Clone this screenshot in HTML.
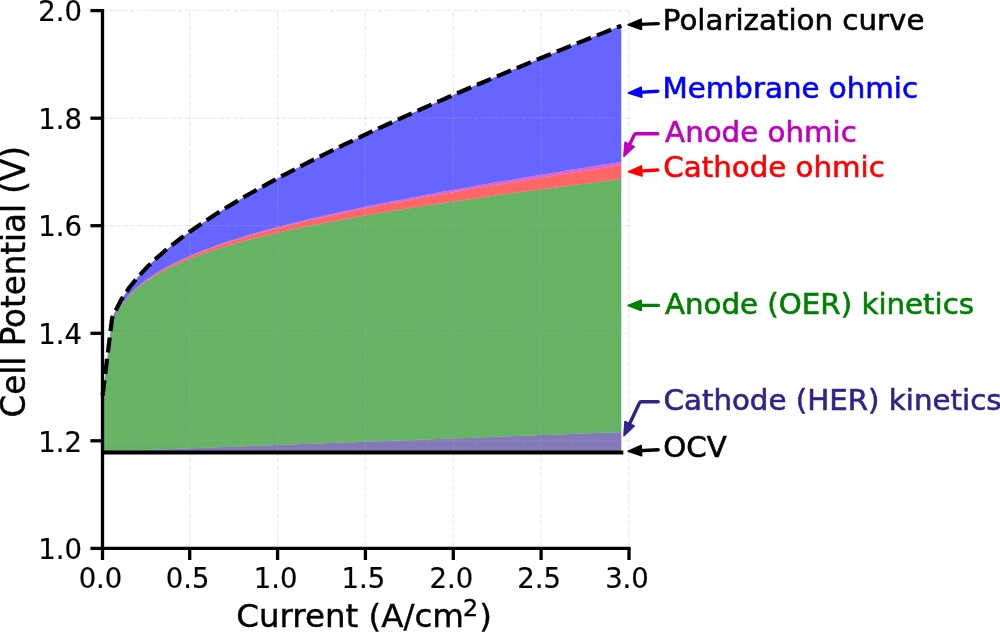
<!DOCTYPE html>
<html><head><meta charset="utf-8"><title>Polarization curve breakdown</title>
<style>html,body{margin:0;padding:0;background:#fff}svg{display:block}</style></head>
<body>
<svg width="1000" height="632" viewBox="0 0 1000 632" font-family="'DejaVu Sans', 'Liberation Sans', sans-serif">
<rect width="1000" height="632" fill="#fff"/>
<path d="M102.6,451.6 L112.1,451.2 L120.8,450.9 L129.4,450.6 L138.0,450.3 L146.7,449.9 L155.3,449.6 L163.9,449.3 L172.6,449.0 L181.2,448.6 L189.8,448.3 L198.4,448.0 L207.1,447.7 L215.7,447.3 L224.3,447.0 L233.0,446.7 L241.6,446.4 L250.2,446.0 L258.9,445.7 L267.5,445.4 L276.1,445.1 L284.7,444.8 L293.4,444.4 L302.0,444.1 L310.6,443.8 L319.3,443.5 L327.9,443.1 L336.5,442.8 L345.1,442.5 L353.8,442.2 L362.4,441.8 L371.0,441.5 L379.7,441.2 L388.3,440.9 L396.9,440.5 L405.6,440.2 L414.2,439.9 L422.8,439.6 L431.4,439.2 L440.1,438.9 L448.7,438.6 L457.3,438.3 L466.0,437.9 L474.6,437.6 L483.2,437.3 L491.9,437.0 L500.5,436.6 L509.1,436.3 L517.7,436.0 L526.4,435.7 L535.0,435.3 L543.6,435.0 L552.3,434.7 L560.9,434.4 L569.5,434.0 L578.2,433.7 L586.8,433.4 L595.4,433.1 L604.0,432.7 L612.7,432.4 L621.3,432.1 L621.3,451.6 L102.6,451.6Z" fill="#332288" fill-opacity="0.6"/>
<path d="M102.6,396.0 L112.1,321.1 L120.8,305.8 L129.4,295.5 L138.0,287.6 L146.7,281.1 L155.3,275.5 L163.9,270.7 L172.6,266.3 L181.2,262.4 L189.8,258.8 L198.4,255.5 L207.1,252.4 L215.7,249.6 L224.3,246.9 L233.0,244.3 L241.6,241.9 L250.2,239.6 L258.9,237.3 L267.5,235.2 L276.1,233.2 L284.7,231.2 L293.4,229.3 L302.0,227.5 L310.6,225.7 L319.3,224.0 L327.9,222.3 L336.5,220.7 L345.1,219.1 L353.8,217.5 L362.4,216.0 L371.0,214.5 L379.7,213.0 L388.3,211.6 L396.9,210.2 L405.6,208.8 L414.2,207.4 L422.8,206.1 L431.4,204.8 L440.1,203.5 L448.7,202.2 L457.3,200.9 L466.0,199.7 L474.6,198.5 L483.2,197.2 L491.9,196.0 L500.5,194.8 L509.1,193.7 L517.7,192.5 L526.4,191.3 L535.0,190.2 L543.6,189.0 L552.3,187.9 L560.9,186.8 L569.5,185.6 L578.2,184.5 L586.8,183.4 L595.4,182.3 L604.0,181.2 L612.7,180.1 L621.3,179.1 L621.3,432.1 L612.7,432.4 L604.0,432.7 L595.4,433.1 L586.8,433.4 L578.2,433.7 L569.5,434.0 L560.9,434.4 L552.3,434.7 L543.6,435.0 L535.0,435.3 L526.4,435.7 L517.7,436.0 L509.1,436.3 L500.5,436.6 L491.9,437.0 L483.2,437.3 L474.6,437.6 L466.0,437.9 L457.3,438.3 L448.7,438.6 L440.1,438.9 L431.4,439.2 L422.8,439.6 L414.2,439.9 L405.6,440.2 L396.9,440.5 L388.3,440.9 L379.7,441.2 L371.0,441.5 L362.4,441.8 L353.8,442.2 L345.1,442.5 L336.5,442.8 L327.9,443.1 L319.3,443.5 L310.6,443.8 L302.0,444.1 L293.4,444.4 L284.7,444.8 L276.1,445.1 L267.5,445.4 L258.9,445.7 L250.2,446.0 L241.6,446.4 L233.0,446.7 L224.3,447.0 L215.7,447.3 L207.1,447.7 L198.4,448.0 L189.8,448.3 L181.2,448.6 L172.6,449.0 L163.9,449.3 L155.3,449.6 L146.7,449.9 L138.0,450.3 L129.4,450.6 L120.8,450.9 L112.1,451.2 L102.6,451.6Z" fill="#008000" fill-opacity="0.6"/>
<path d="M102.6,396.0 L112.1,320.8 L120.8,305.4 L129.4,294.8 L138.0,286.6 L146.7,279.9 L155.3,274.1 L163.9,269.0 L172.6,264.5 L181.2,260.3 L189.8,256.5 L198.4,252.9 L207.1,249.6 L215.7,246.5 L224.3,243.6 L233.0,240.8 L241.6,238.1 L250.2,235.6 L258.9,233.1 L267.5,230.8 L276.1,228.5 L284.7,226.3 L293.4,224.2 L302.0,222.1 L310.6,220.1 L319.3,218.2 L327.9,216.2 L336.5,214.4 L345.1,212.6 L353.8,210.8 L362.4,209.0 L371.0,207.3 L379.7,205.6 L388.3,203.9 L396.9,202.3 L405.6,200.7 L414.2,199.1 L422.8,197.5 L431.4,196.0 L440.1,194.4 L448.7,192.9 L457.3,191.4 L466.0,190.0 L474.6,188.5 L483.2,187.0 L491.9,185.6 L500.5,184.2 L509.1,182.8 L517.7,181.4 L526.4,180.0 L535.0,178.6 L543.6,177.2 L552.3,175.8 L560.9,174.5 L569.5,173.1 L578.2,171.8 L586.8,170.4 L595.4,169.1 L604.0,167.8 L612.7,166.5 L621.3,165.1 L621.3,179.1 L612.7,180.1 L604.0,181.2 L595.4,182.3 L586.8,183.4 L578.2,184.5 L569.5,185.6 L560.9,186.8 L552.3,187.9 L543.6,189.0 L535.0,190.2 L526.4,191.3 L517.7,192.5 L509.1,193.7 L500.5,194.8 L491.9,196.0 L483.2,197.2 L474.6,198.5 L466.0,199.7 L457.3,200.9 L448.7,202.2 L440.1,203.5 L431.4,204.8 L422.8,206.1 L414.2,207.4 L405.6,208.8 L396.9,210.2 L388.3,211.6 L379.7,213.0 L371.0,214.5 L362.4,216.0 L353.8,217.5 L345.1,219.1 L336.5,220.7 L327.9,222.3 L319.3,224.0 L310.6,225.7 L302.0,227.5 L293.4,229.3 L284.7,231.2 L276.1,233.2 L267.5,235.2 L258.9,237.3 L250.2,239.6 L241.6,241.9 L233.0,244.3 L224.3,246.9 L215.7,249.6 L207.1,252.4 L198.4,255.5 L189.8,258.8 L181.2,262.4 L172.6,266.3 L163.9,270.7 L155.3,275.5 L146.7,281.1 L138.0,287.6 L129.4,295.5 L120.8,305.8 L112.1,321.1 L102.6,396.0Z" fill="#ff0000" fill-opacity="0.6"/>
<path d="M102.6,396.0 L112.1,320.7 L120.8,305.2 L129.4,294.6 L138.0,286.4 L146.7,279.6 L155.3,273.8 L163.9,268.6 L172.6,264.0 L181.2,259.8 L189.8,255.9 L198.4,252.3 L207.1,249.0 L215.7,245.8 L224.3,242.8 L233.0,240.0 L241.6,237.3 L250.2,234.6 L258.9,232.1 L267.5,229.7 L276.1,227.4 L284.7,225.2 L293.4,223.0 L302.0,220.9 L310.6,218.8 L319.3,216.8 L327.9,214.8 L336.5,212.9 L345.1,211.0 L353.8,209.2 L362.4,207.3 L371.0,205.6 L379.7,203.8 L388.3,202.1 L396.9,200.4 L405.6,198.7 L414.2,197.1 L422.8,195.5 L431.4,193.9 L440.1,192.3 L448.7,190.7 L457.3,189.2 L466.0,187.6 L474.6,186.1 L483.2,184.6 L491.9,183.1 L500.5,181.6 L509.1,180.2 L517.7,178.7 L526.4,177.3 L535.0,175.8 L543.6,174.4 L552.3,173.0 L560.9,171.5 L569.5,170.1 L578.2,168.7 L586.8,167.3 L595.4,166.0 L604.0,164.6 L612.7,163.2 L621.3,161.8 L621.3,165.1 L612.7,166.5 L604.0,167.8 L595.4,169.1 L586.8,170.4 L578.2,171.8 L569.5,173.1 L560.9,174.5 L552.3,175.8 L543.6,177.2 L535.0,178.6 L526.4,180.0 L517.7,181.4 L509.1,182.8 L500.5,184.2 L491.9,185.6 L483.2,187.0 L474.6,188.5 L466.0,190.0 L457.3,191.4 L448.7,192.9 L440.1,194.4 L431.4,196.0 L422.8,197.5 L414.2,199.1 L405.6,200.7 L396.9,202.3 L388.3,203.9 L379.7,205.6 L371.0,207.3 L362.4,209.0 L353.8,210.8 L345.1,212.6 L336.5,214.4 L327.9,216.2 L319.3,218.2 L310.6,220.1 L302.0,222.1 L293.4,224.2 L284.7,226.3 L276.1,228.5 L267.5,230.8 L258.9,233.1 L250.2,235.6 L241.6,238.1 L233.0,240.8 L224.3,243.6 L215.7,246.5 L207.1,249.6 L198.4,252.9 L189.8,256.5 L181.2,260.3 L172.6,264.5 L163.9,269.0 L155.3,274.1 L146.7,279.9 L138.0,286.6 L129.4,294.8 L120.8,305.4 L112.1,320.8 L102.6,396.0Z" fill="#bf00bf" fill-opacity="0.6"/>
<path d="M102.6,395.5 L112.1,317.9 L120.8,300.4 L129.4,287.5 L138.0,276.9 L146.7,267.6 L155.3,259.3 L163.9,251.7 L172.6,244.7 L181.2,238.0 L189.8,231.7 L198.4,225.7 L207.1,219.9 L215.7,214.3 L224.3,208.9 L233.0,203.6 L241.6,198.5 L250.2,193.5 L258.9,188.7 L267.5,183.9 L276.1,179.2 L284.7,174.6 L293.4,170.1 L302.0,165.6 L310.6,161.2 L319.3,156.9 L327.9,152.6 L336.5,148.4 L345.1,144.2 L353.8,140.1 L362.4,136.0 L371.0,131.9 L379.7,127.9 L388.3,124.0 L396.9,120.0 L405.6,116.1 L414.2,112.2 L422.8,108.4 L431.4,104.6 L440.1,100.8 L448.7,97.0 L457.3,93.3 L466.0,89.5 L474.6,85.8 L483.2,82.2 L491.9,78.5 L500.5,74.9 L509.1,71.3 L517.7,67.7 L526.4,64.1 L535.0,60.5 L543.6,57.0 L552.3,53.4 L560.9,49.9 L569.5,46.4 L578.2,42.9 L586.8,39.5 L595.4,36.0 L604.0,32.6 L612.7,29.1 L621.3,25.7 L621.3,161.8 L612.7,163.2 L604.0,164.6 L595.4,166.0 L586.8,167.3 L578.2,168.7 L569.5,170.1 L560.9,171.5 L552.3,173.0 L543.6,174.4 L535.0,175.8 L526.4,177.3 L517.7,178.7 L509.1,180.2 L500.5,181.6 L491.9,183.1 L483.2,184.6 L474.6,186.1 L466.0,187.6 L457.3,189.2 L448.7,190.7 L440.1,192.3 L431.4,193.9 L422.8,195.5 L414.2,197.1 L405.6,198.7 L396.9,200.4 L388.3,202.1 L379.7,203.8 L371.0,205.6 L362.4,207.3 L353.8,209.2 L345.1,211.0 L336.5,212.9 L327.9,214.8 L319.3,216.8 L310.6,218.8 L302.0,220.9 L293.4,223.0 L284.7,225.2 L276.1,227.4 L267.5,229.7 L258.9,232.1 L250.2,234.6 L241.6,237.3 L233.0,240.0 L224.3,242.8 L215.7,245.8 L207.1,249.0 L198.4,252.3 L189.8,255.9 L181.2,259.8 L172.6,264.0 L163.9,268.6 L155.3,273.8 L146.7,279.6 L138.0,286.4 L129.4,294.6 L120.8,305.2 L112.1,320.7 L102.6,396.0Z" fill="#0000ff" fill-opacity="0.6"/>
<g stroke="#b0b0b0" stroke-opacity="0.25" stroke-width="1.3" stroke-dasharray="4.8 2.07" fill="none">
<path d="M189.7,548.4 V10.6" stroke-dashoffset="4"/>
<path d="M277.6,548.4 V10.6" stroke-dashoffset="4"/>
<path d="M365.4,548.4 V10.6" stroke-dashoffset="4"/>
<path d="M453.3,548.4 V10.6" stroke-dashoffset="4"/>
<path d="M541.1,548.4 V10.6" stroke-dashoffset="4"/>
<path d="M629.0,548.4 V10.6" stroke-dashoffset="4"/>
<path d="M102.5,440.8 H629.0"/>
<path d="M102.5,333.3 H629.0"/>
<path d="M102.5,225.7 H629.0"/>
<path d="M102.5,118.2 H629.0"/>
<path d="M102.5,10.6 H629.0"/>
</g>
<path d="M102.6,452.4 H623.3" stroke="#000" stroke-width="4" fill="none"/>
<path d="M102.6,395.5 L112.1,317.9 L120.8,300.4 L129.4,287.5 L138.0,276.9 L146.7,267.6 L155.3,259.3 L163.9,251.7 L172.6,244.7 L181.2,238.0 L189.8,231.7 L198.4,225.7 L207.1,219.9 L215.7,214.3 L224.3,208.9 L233.0,203.6 L241.6,198.5 L250.2,193.5 L258.9,188.7 L267.5,183.9 L276.1,179.2 L284.7,174.6 L293.4,170.1 L302.0,165.6 L310.6,161.2 L319.3,156.9 L327.9,152.6 L336.5,148.4 L345.1,144.2 L353.8,140.1 L362.4,136.0 L371.0,131.9 L379.7,127.9 L388.3,124.0 L396.9,120.0 L405.6,116.1 L414.2,112.2 L422.8,108.4 L431.4,104.6 L440.1,100.8 L448.7,97.0 L457.3,93.3 L466.0,89.5 L474.6,85.8 L483.2,82.2 L491.9,78.5 L500.5,74.9 L509.1,71.3 L517.7,67.7 L526.4,64.1 L535.0,60.5 L543.6,57.0 L552.3,53.4 L560.9,49.9 L569.5,46.4 L578.2,42.9 L586.8,39.5 L595.4,36.0 L604.0,32.6 L612.7,29.1 L621.3,25.7" stroke="#000" stroke-width="4.2" stroke-dasharray="15.3 6.32" fill="none" stroke-linejoin="round"/>
<path d="M102.5,8.95 V550.05" stroke="#000" stroke-width="3.3" fill="none"/>
<path d="M100.85,548.4 H630.66" stroke="#000" stroke-width="3.3" fill="none"/>
<g stroke="#000" stroke-width="3.3" fill="none">
<path d="M102.5,548.4 V560.0"/>
<path d="M189.7,548.4 V560.0"/>
<path d="M277.6,548.4 V560.0"/>
<path d="M365.4,548.4 V560.0"/>
<path d="M453.3,548.4 V560.0"/>
<path d="M541.1,548.4 V560.0"/>
<path d="M629.0,548.4 V560.0"/>
<path d="M102.5,548.4 H90.4"/>
<path d="M102.5,440.8 H90.4"/>
<path d="M102.5,333.3 H90.4"/>
<path d="M102.5,225.7 H90.4"/>
<path d="M102.5,118.2 H90.4"/>
<path d="M102.5,10.6 H90.4"/>
</g>
<g font-size="27.5" fill="#000" stroke="#000" stroke-width="0.2">
<text x="100.5" y="588.0" text-anchor="middle">0.0</text>
<text x="187.7" y="588.0" text-anchor="middle">0.5</text>
<text x="275.6" y="588.0" text-anchor="middle">1.0</text>
<text x="363.4" y="588.0" text-anchor="middle">1.5</text>
<text x="451.3" y="588.0" text-anchor="middle">2.0</text>
<text x="539.1" y="588.0" text-anchor="middle">2.5</text>
<text x="627.0" y="588.0" text-anchor="middle">3.0</text>
<text x="81.9" y="559.1" text-anchor="end">1.0</text>
<text x="81.9" y="451.5" text-anchor="end">1.2</text>
<text x="81.9" y="344.0" text-anchor="end">1.4</text>
<text x="81.9" y="236.4" text-anchor="end">1.6</text>
<text x="81.9" y="128.9" text-anchor="end">1.8</text>
<text x="81.9" y="21.3" text-anchor="end">2.0</text>
</g>
<text font-size="32.5" fill="#000" stroke="#000" stroke-width="0.4" transform="translate(0,627.4) scale(1,0.965)"><tspan x="236.3" y="0">Current (A/cm</tspan><tspan font-size="23.72" x="463.0" y="-11.9">2</tspan><tspan x="479.2" y="0">)</tspan></text>
<text font-size="32.5" fill="#000" transform="translate(25.4,417.4) rotate(-90) scale(1,1.045)" stroke="#000" stroke-width="0.4">Cell Potential (V)</text>
<path d="M658.3,23.6 L639.3,24.4" stroke="#000" stroke-width="3.4" stroke-linecap="round" fill="none"/><path d="M628.1,24.8 L641.1,19.2 L641.5,29.4Z" fill="#000" stroke="#000" stroke-width="1.6" stroke-linejoin="round"/>
<path d="M657.8,91.2 L639.5,92.4" stroke="#0000ff" stroke-width="3.4" stroke-linecap="round" fill="none"/><path d="M628.3,93.1 L641.1,87.2 L641.8,97.3Z" fill="#0000ff" stroke="#0000ff" stroke-width="1.6" stroke-linejoin="round"/>
<path d="M657.8,133.8 L636.3,133.8 Q634.8,133.8 634.1,135.2 L628.8,146.3" stroke="#bf00bf" stroke-width="3.4" stroke-linecap="round" fill="none"/><path d="M623.9,156.3 L625.1,142.2 L634.2,146.7Z" fill="#bf00bf" stroke="#bf00bf" stroke-width="1.6" stroke-linejoin="round"/>
<path d="M657.8,170.0 L639.7,171.1" stroke="#ff0000" stroke-width="3.4" stroke-linecap="round" fill="none"/><path d="M628.5,171.7 L641.4,165.9 L642.0,176.0Z" fill="#ff0000" stroke="#ff0000" stroke-width="1.6" stroke-linejoin="round"/>
<path d="M658.5,305.4 L639.2,305.4" stroke="#008000" stroke-width="3.4" stroke-linecap="round" fill="none"/><path d="M628.0,305.4 L641.2,300.3 L641.2,310.5Z" fill="#008000" stroke="#008000" stroke-width="1.6" stroke-linejoin="round"/>
<path d="M658.2,401.8 L641.4,401.8 Q639.9,401.8 639.3,403.2 L628.8,425.5" stroke="#332288" stroke-width="3.4" stroke-linecap="round" fill="none"/><path d="M624.0,435.6 L625.0,421.5 L634.2,425.9Z" fill="#332288" stroke="#332288" stroke-width="1.6" stroke-linejoin="round"/>
<path d="M658.2,449.8 L639.4,450.8" stroke="#000" stroke-width="3.4" stroke-linecap="round" fill="none"/><path d="M628.2,451.3 L641.1,445.6 L641.6,455.8Z" fill="#000" stroke="#000" stroke-width="1.6" stroke-linejoin="round"/>
<g font-size="29.3" stroke-width="0.6">
<text transform="translate(662.8,29.9) scale(1,0.965)" fill="#000" stroke="#000">Polarization curve</text>
<text transform="translate(662.5,98.2) scale(1,0.965)" fill="#0000ff" stroke="#0000ff">Membrane ohmic</text>
<text transform="translate(665.1,141.5) scale(1,0.965)" fill="#bf00bf" stroke="#bf00bf">Anode ohmic</text>
<text transform="translate(663.3,177.4) scale(1,0.965)" fill="#ff0000" stroke="#ff0000">Cathode ohmic</text>
<text transform="translate(664.9,313.5) scale(1,0.965)" fill="#008000" stroke="#008000">Anode (OER) kinetics</text>
<text transform="translate(663.5,410.3) scale(1,0.965)" fill="#332288" stroke="#332288">Cathode (HER) kinetics</text>
<text transform="translate(663.2,456.8) scale(1,0.965)" fill="#000" stroke="#000">OCV</text>
</g>
</svg>
</body></html>
